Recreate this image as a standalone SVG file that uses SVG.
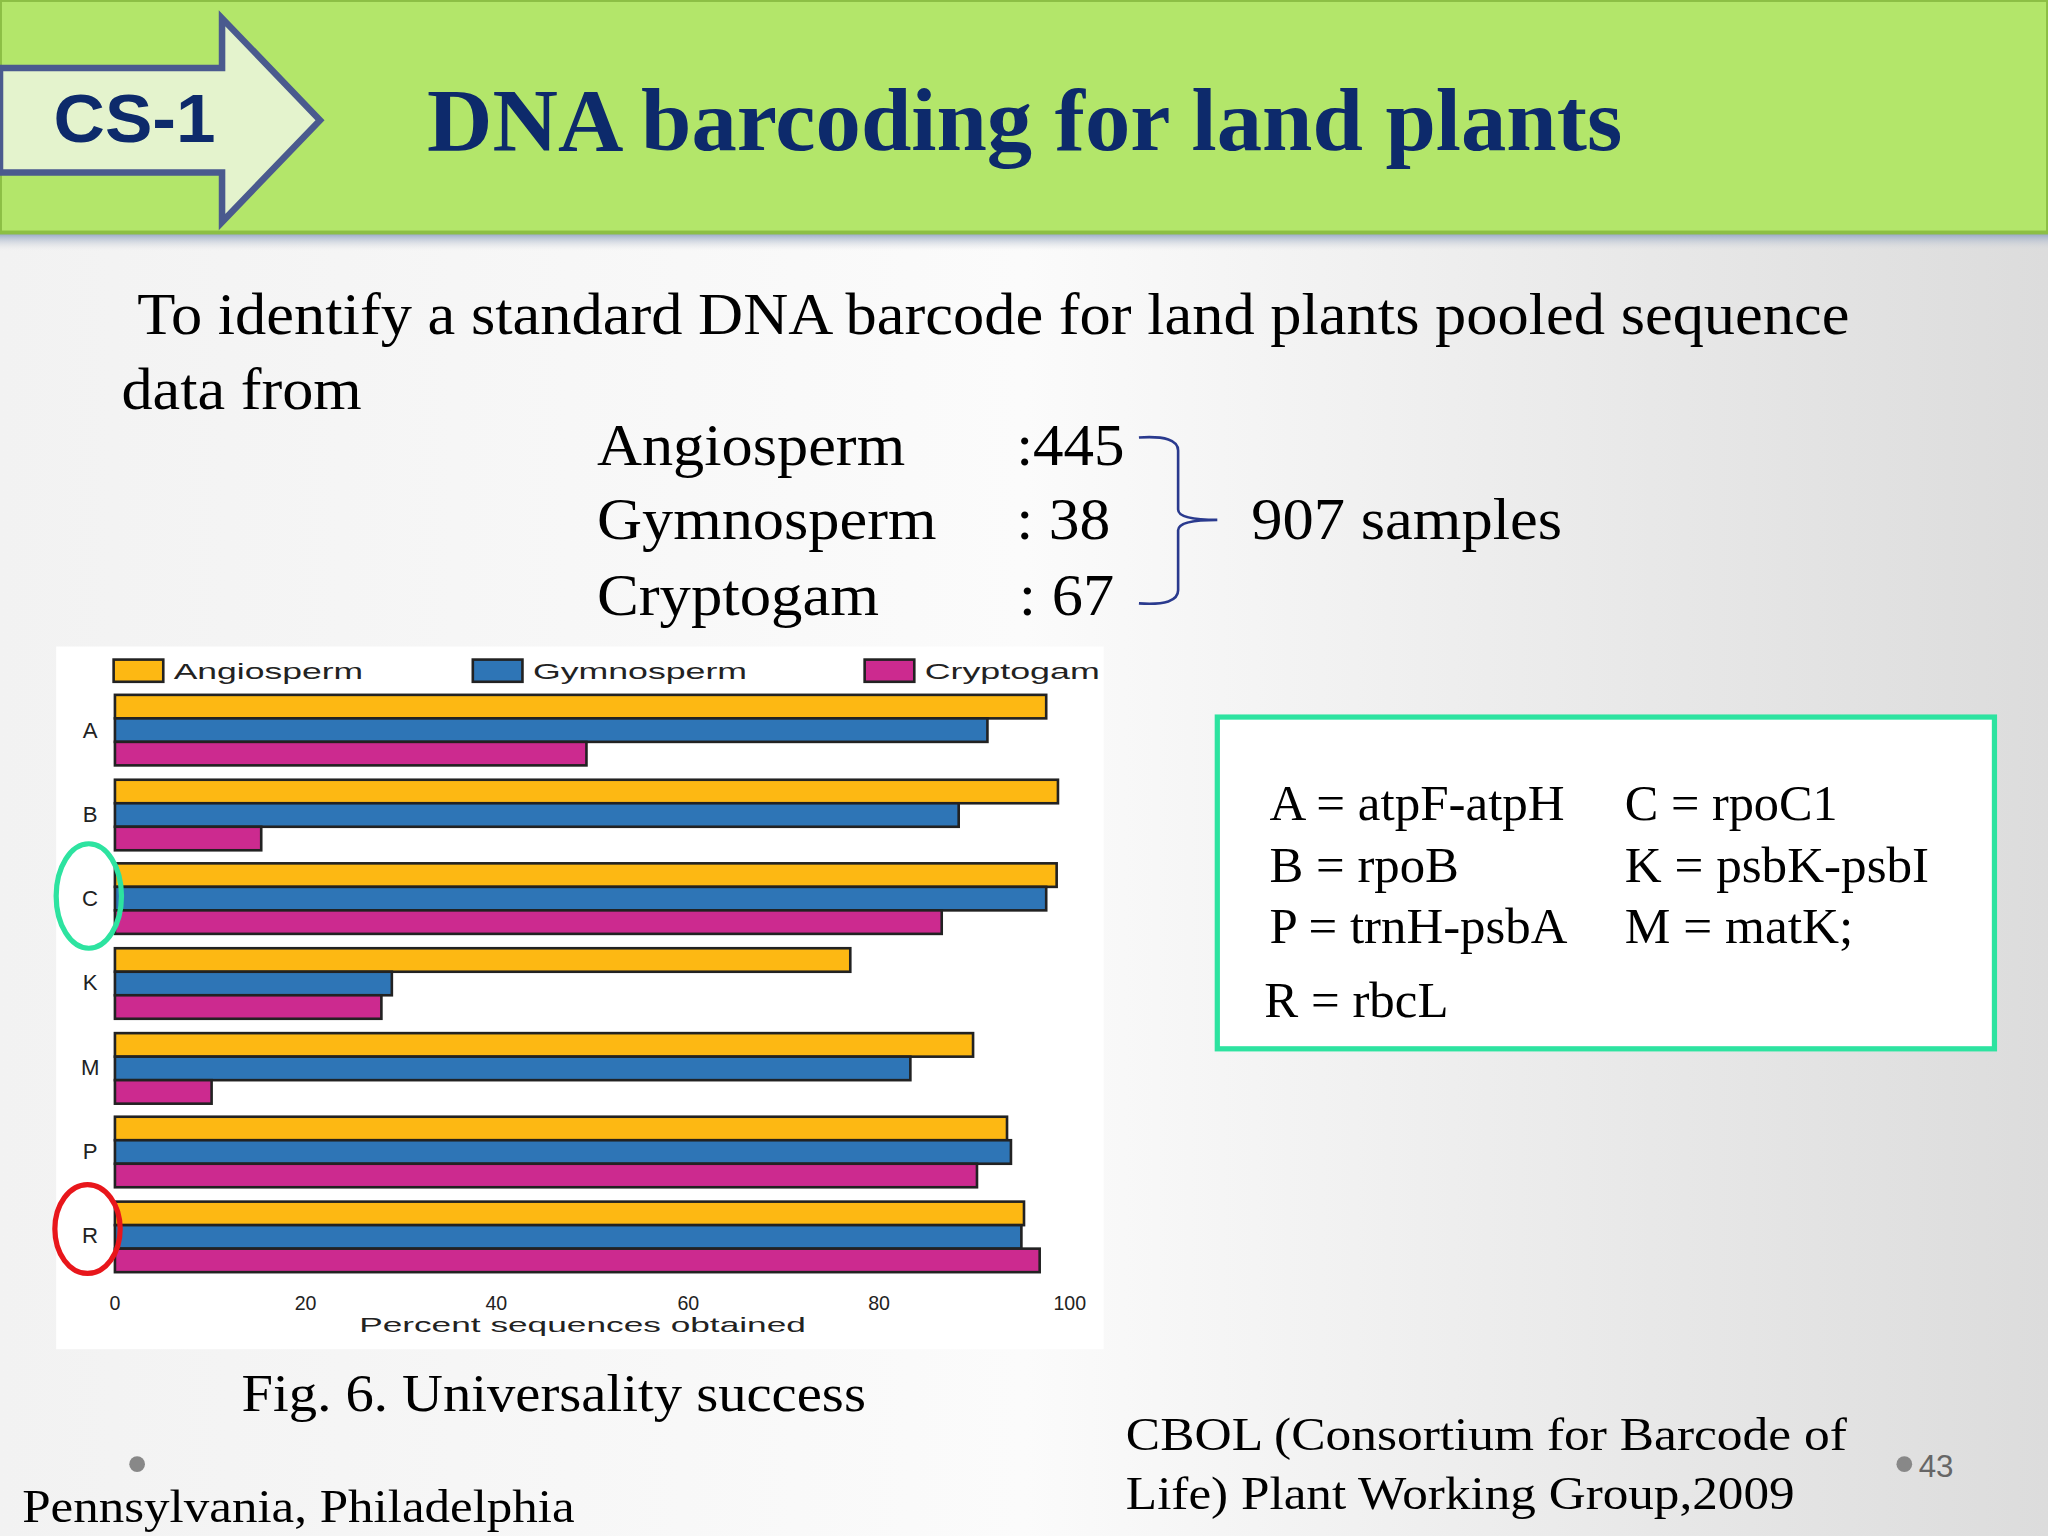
<svg xmlns="http://www.w3.org/2000/svg" width="2048" height="1536" viewBox="0 0 2048 1536">
<defs>
<linearGradient id="bg" x1="0" y1="0" x2="1" y2="0"><stop offset="0" stop-color="#f2f2f2"/><stop offset="0.5" stop-color="#fbfbfb"/><stop offset="1" stop-color="#dcdcdc"/></linearGradient>
<linearGradient id="sh" x1="0" y1="0" x2="0" y2="1"><stop offset="0" stop-color="#8a9fc0"/><stop offset="1" stop-color="#e0e0e0" stop-opacity="0"/></linearGradient>
</defs>
<style>
.t{font-family:"Liberation Serif",serif;fill:#000}
.s{font-family:"Liberation Sans",Arial,sans-serif;fill:#222}
.y{fill:#fdb813;stroke:#222;stroke-width:2}
.b{fill:#2e75b6;stroke:#222;stroke-width:2}
.p{fill:#cc2a8f;stroke:#222;stroke-width:2}
</style>
<rect width="2048" height="1536" fill="url(#bg)"/>
<g transform="scale(1.30612)">
<g id="header">
<rect x="0" y="178" width="1568" height="14" fill="url(#sh)"/>
<rect x="0" y="0" width="1568" height="178" fill="#b3e66a" stroke="#8cbf45" stroke-width="3"/>
<polygon points="0,52 170,52 170,14 245,92 170,170 170,132 0,132" fill="#e4f3cd" stroke="#4a5a8e" stroke-width="5"/>
<text x="103" y="109" text-anchor="middle" font-family="Liberation Sans,Arial,sans-serif" font-weight="bold" font-size="52" fill="#0d2a6b" textLength="124" lengthAdjust="spacingAndGlyphs">CS-1</text>
<text x="327" y="115" font-family="Liberation Serif,serif" font-weight="bold" font-size="68" fill="#0d2a6b" textLength="915" lengthAdjust="spacingAndGlyphs">DNA barcoding for land plants</text>
</g>
<g id="intro">
<text class="t" x="105" y="256" font-size="45" textLength="1311" lengthAdjust="spacingAndGlyphs">To identify a standard DNA barcode for land plants pooled sequence</text>
<text class="t" x="93" y="313" font-size="45" textLength="184" lengthAdjust="spacingAndGlyphs">data from</text>
<text class="t" x="457" y="356" font-size="45" textLength="236" lengthAdjust="spacingAndGlyphs">Angiosperm</text>
<text class="t" x="778" y="356" font-size="45" textLength="83" lengthAdjust="spacingAndGlyphs">:445</text>
<text class="t" x="457" y="413" font-size="45" textLength="260" lengthAdjust="spacingAndGlyphs">Gymnosperm</text>
<text class="t" x="778" y="413" font-size="45" textLength="72" lengthAdjust="spacingAndGlyphs">: 38</text>
<text class="t" x="457" y="471" font-size="45" textLength="216" lengthAdjust="spacingAndGlyphs">Cryptogam</text>
<text class="t" x="780" y="471" font-size="45" textLength="73" lengthAdjust="spacingAndGlyphs">: 67</text>
<path d="M872,335 Q902,333 902,345 L902,390 Q902,398 932,398 Q902,398 902,406 L902,452 Q902,464 872,462" fill="none" stroke="#2a3a8e" stroke-width="2"/>
<text class="t" x="958" y="413" font-size="45" textLength="238" lengthAdjust="spacingAndGlyphs">907 samples</text>
</g>
<g id="chart">
<rect x="43" y="495" width="802" height="538" fill="#fff"/>
<rect class="y" x="87" y="505" width="38" height="17"/><text class="s" x="133" y="520" font-size="17" textLength="145" lengthAdjust="spacingAndGlyphs">Angiosperm</text>
<rect class="b" x="362" y="505" width="38" height="17"/><text class="s" x="408" y="520" font-size="17" textLength="164" lengthAdjust="spacingAndGlyphs">Gymnosperm</text>
<rect class="p" x="662" y="505" width="38" height="17"/><text class="s" x="708" y="520" font-size="17" textLength="134" lengthAdjust="spacingAndGlyphs">Cryptogam</text>
<g font-size="17" class="s" text-anchor="middle">
<text x="69" y="565">A</text><text x="69" y="629">B</text><text x="69" y="694">C</text><text x="69" y="758">K</text><text x="69" y="823">M</text><text x="69" y="887">P</text><text x="69" y="952">R</text>
</g>
<rect class="y" x="88" y="532" width="713" height="18"/><rect class="b" x="88" y="550" width="668" height="18"/><rect class="p" x="88" y="568" width="361" height="18"/>
<rect class="y" x="88" y="597" width="722" height="18"/><rect class="b" x="88" y="615" width="646" height="18"/><rect class="p" x="88" y="633" width="112" height="18"/>
<rect class="y" x="88" y="661" width="721" height="18"/><rect class="b" x="88" y="679" width="713" height="18"/><rect class="p" x="88" y="697" width="633" height="18"/>
<rect class="y" x="88" y="726" width="563" height="18"/><rect class="b" x="88" y="744" width="212" height="18"/><rect class="p" x="88" y="762" width="204" height="18"/>
<rect class="y" x="88" y="791" width="657" height="18"/><rect class="b" x="88" y="809" width="609" height="18"/><rect class="p" x="88" y="827" width="74" height="18"/>
<rect class="y" x="88" y="855" width="683" height="18"/><rect class="b" x="88" y="873" width="686" height="18"/><rect class="p" x="88" y="891" width="660" height="18"/>
<rect class="y" x="88" y="920" width="696" height="18"/><rect class="b" x="88" y="938" width="694" height="18"/><rect class="p" x="88" y="956" width="708" height="18"/>
<g class="s" font-size="15" text-anchor="middle">
<text x="88" y="1003">0</text><text x="234" y="1003">20</text><text x="380" y="1003">40</text><text x="527" y="1003">60</text><text x="673" y="1003">80</text><text x="819" y="1003">100</text>
</g>
<text class="s" x="275" y="1020" font-size="15" textLength="342" lengthAdjust="spacingAndGlyphs">Percent sequences obtained</text>
<ellipse cx="68" cy="686" rx="25" ry="40" fill="none" stroke="#2de3a0" stroke-width="4"/>
<ellipse cx="67" cy="941" rx="25" ry="34" fill="none" stroke="#e8161b" stroke-width="4"/>
</g>
<g id="legendbox">
<rect x="932" y="549" width="595" height="254" fill="#fff" stroke="#2de3a0" stroke-width="4"/>
<g class="t" font-size="38">
<text x="972" y="628" textLength="226" lengthAdjust="spacingAndGlyphs">A = atpF-atpH</text><text x="1244" y="628" textLength="163" lengthAdjust="spacingAndGlyphs">C = rpoC1</text>
<text x="972" y="675" textLength="145" lengthAdjust="spacingAndGlyphs">B = rpoB</text><text x="1244" y="675" textLength="233" lengthAdjust="spacingAndGlyphs">K = psbK-psbI</text>
<text x="972" y="722" textLength="228" lengthAdjust="spacingAndGlyphs">P = trnH-psbA</text><text x="1244" y="722" textLength="175" lengthAdjust="spacingAndGlyphs">M = matK;</text>
<text x="968" y="779" textLength="141" lengthAdjust="spacingAndGlyphs">R = rbcL</text>
</g>
</g>
<g id="footer">
<text class="t" x="185" y="1080" font-size="40" textLength="478" lengthAdjust="spacingAndGlyphs">Fig. 6. Universality success</text>
<circle cx="105" cy="1121" r="6" fill="#888"/>
<text class="t" x="17" y="1165" font-size="36" textLength="423" lengthAdjust="spacingAndGlyphs">Pennsylvania, Philadelphia</text>
<text class="t" x="862" y="1110" font-size="36" textLength="552" lengthAdjust="spacingAndGlyphs">CBOL (Consortium for Barcode of</text>
<text class="t" x="862" y="1155" font-size="36" textLength="512" lengthAdjust="spacingAndGlyphs">Life) Plant Working Group,2009</text>
<circle cx="1458" cy="1121" r="6" fill="#888"/>
<text x="1469" y="1131" font-family="Liberation Sans,Arial,sans-serif" font-size="24" fill="#666">43</text>
</g>
</g>
</svg>
